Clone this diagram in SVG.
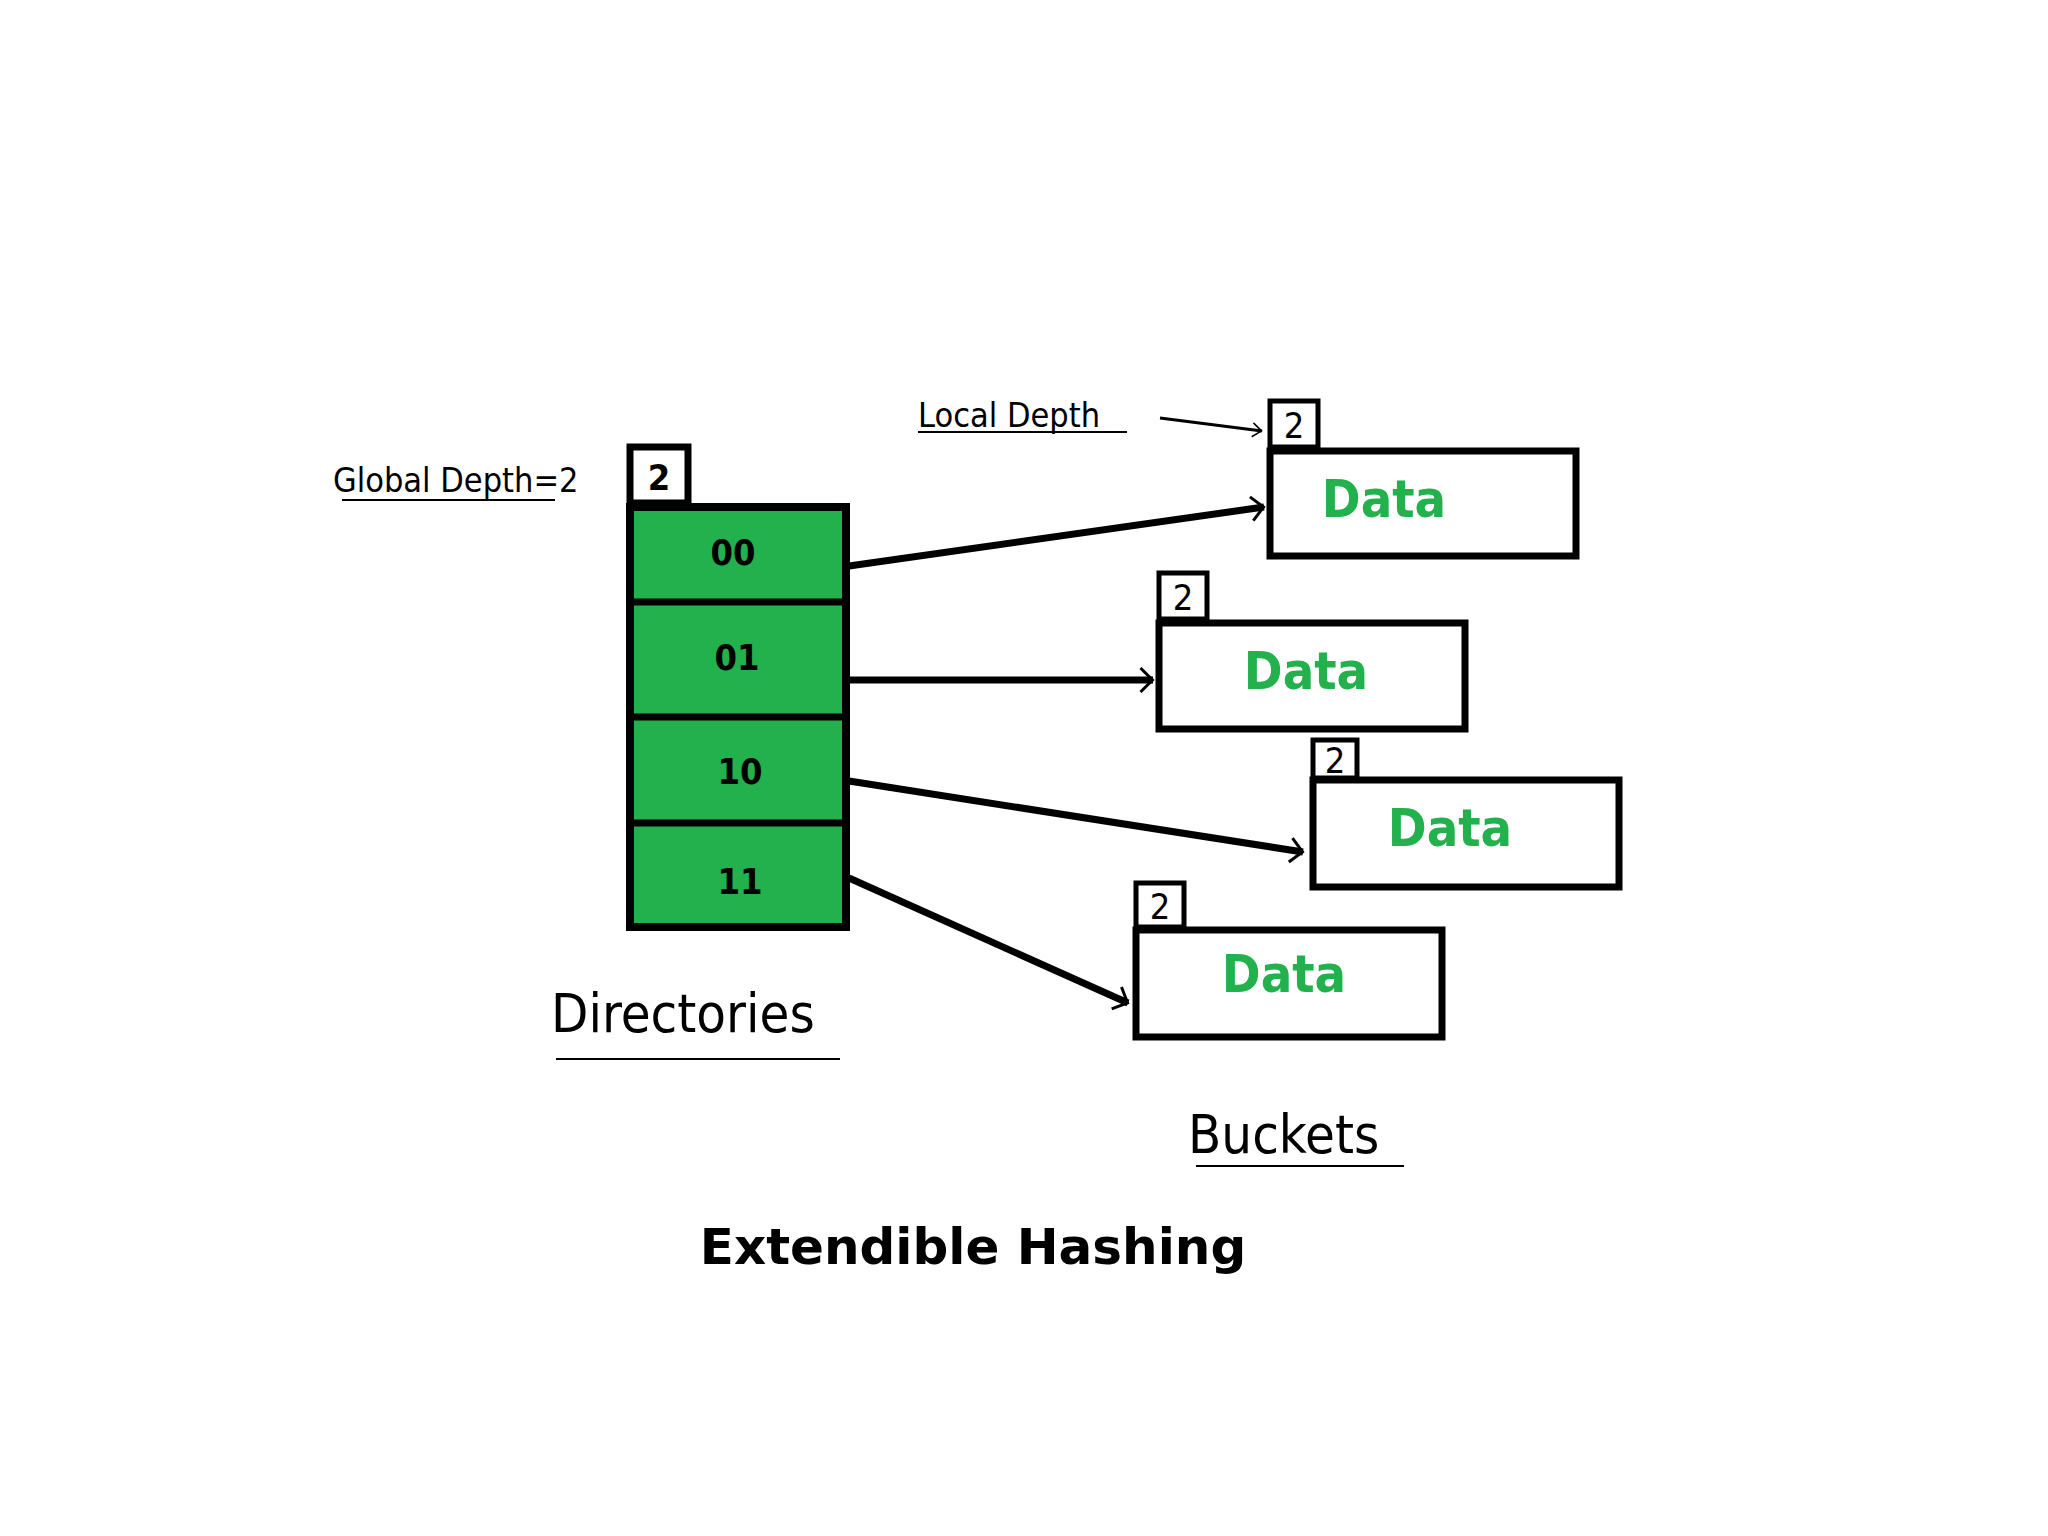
<svg xmlns="http://www.w3.org/2000/svg" width="2048" height="1536" viewBox="0 0 2048 1536">
<style>
.b{fill:#fff;stroke:#000;stroke-width:7}
.sb{fill:#fff;stroke:#000;stroke-width:5}
.t{font-family:"DejaVu Sans Condensed","DejaVu Sans",sans-serif}
.d{font-family:"DejaVu Sans Condensed","DejaVu Sans",sans-serif;font-size:52px;fill:#22b14c;text-anchor:middle;font-weight:bold}
.n{font-family:"DejaVu Sans Condensed","DejaVu Sans",sans-serif;font-size:36px;text-anchor:middle}
.c{stroke:#000;stroke-width:7;fill:none}
.u{stroke:#000;stroke-width:2}
</style>
<defs><marker id="a" viewBox="0 0 12 12" refX="11" refY="6" markerWidth="6" markerHeight="6" orient="auto" markerUnits="userSpaceOnUse" overflow="visible"><path d="M-14,-18 L10,6 L-14,30" fill="none" stroke="#000" stroke-width="6"/></marker>
<marker id="s" viewBox="0 0 12 12" refX="11" refY="6" markerWidth="6" markerHeight="6" orient="auto" markerUnits="userSpaceOnUse" overflow="visible"><path d="M-8,-8 L10,6 L-8,20" fill="none" stroke="#000" stroke-width="3"/></marker></defs>
<g id="global">
<text class="t" x="333" y="492" font-size="34">Global Depth=2</text>
<line class="u" x1="342" y1="500" x2="555" y2="500"/>
<rect class="b" x="630" y="447" width="58" height="56"/>
<text class="n" x="659" y="490" font-weight="bold">2</text>
</g>
<g id="directory">
<rect x="630" y="507" width="216" height="420" fill="#22b14c" stroke="#000" stroke-width="8"/>
<line x1="630" y1="602" x2="846" y2="602" stroke="#000" stroke-width="7"/>
<line x1="630" y1="717" x2="846" y2="717" stroke="#000" stroke-width="7"/>
<line x1="630" y1="823" x2="846" y2="823" stroke="#000" stroke-width="7"/>
<text class="n" x="733" y="565" font-weight="bold" font-size="32">00</text>
<text class="n" x="737" y="670" font-weight="bold" font-size="32">01</text>
<text class="n" x="740" y="784" font-weight="bold" font-size="32">10</text>
<text class="n" x="740" y="894" font-weight="bold" font-size="32">11</text>
</g>
<g id="bucket1"><rect class="sb" x="1270" y="401" width="48" height="46"/><text class="n" x="1294" y="438">2</text><rect class="b" x="1270" y="451" width="306" height="105"/><text class="d" x="1384" y="517">Data</text></g>
<g id="bucket2"><rect class="sb" x="1159" y="573" width="48" height="46"/><text class="n" x="1183" y="610">2</text><rect class="b" x="1159" y="623" width="306" height="106"/><text class="d" x="1306" y="689">Data</text></g>
<g id="bucket3"><rect class="sb" x="1313" y="740" width="44" height="38"/><text class="n" x="1335" y="773">2</text><rect class="b" x="1313" y="780" width="306" height="107"/><text class="d" x="1450" y="846">Data</text></g>
<g id="bucket4"><rect class="sb" x="1136" y="883" width="48" height="44"/><text class="n" x="1160" y="919">2</text><rect class="b" x="1136" y="930" width="306" height="107"/><text class="d" x="1284" y="992">Data</text></g>
<g id="labels">
<text class="t" x="918" y="427" font-size="34">Local Depth</text>
<line class="u" x1="918" y1="432" x2="1127" y2="432"/>
<text class="t" x="551" y="1032" font-size="54">Directories</text>
<line class="u" x1="556" y1="1059" x2="840" y2="1059"/>
<text class="t" x="1188" y="1153" font-size="54">Buckets</text>
<line class="u" x1="1196" y1="1166" x2="1404" y2="1166"/>
<text x="973" y="1264" font-family="'DejaVu Sans',sans-serif" font-weight="bold" font-size="50" text-anchor="middle">Extendible Hashing</text>
</g>
<g id="connectors">
<line class="c" x1="849" y1="566" x2="1264" y2="507" marker-end="url(#a)"/>
<line class="c" x1="849" y1="680" x2="1153" y2="680" marker-end="url(#a)"/>
<line class="c" x1="849" y1="781" x2="1303" y2="852" marker-end="url(#a)"/>
<line class="c" x1="849" y1="878" x2="1128" y2="1003" marker-end="url(#a)"/>
<line x1="1160" y1="418" x2="1262" y2="431" stroke="#000" stroke-width="3" marker-end="url(#s)"/>
</g>
</svg>
